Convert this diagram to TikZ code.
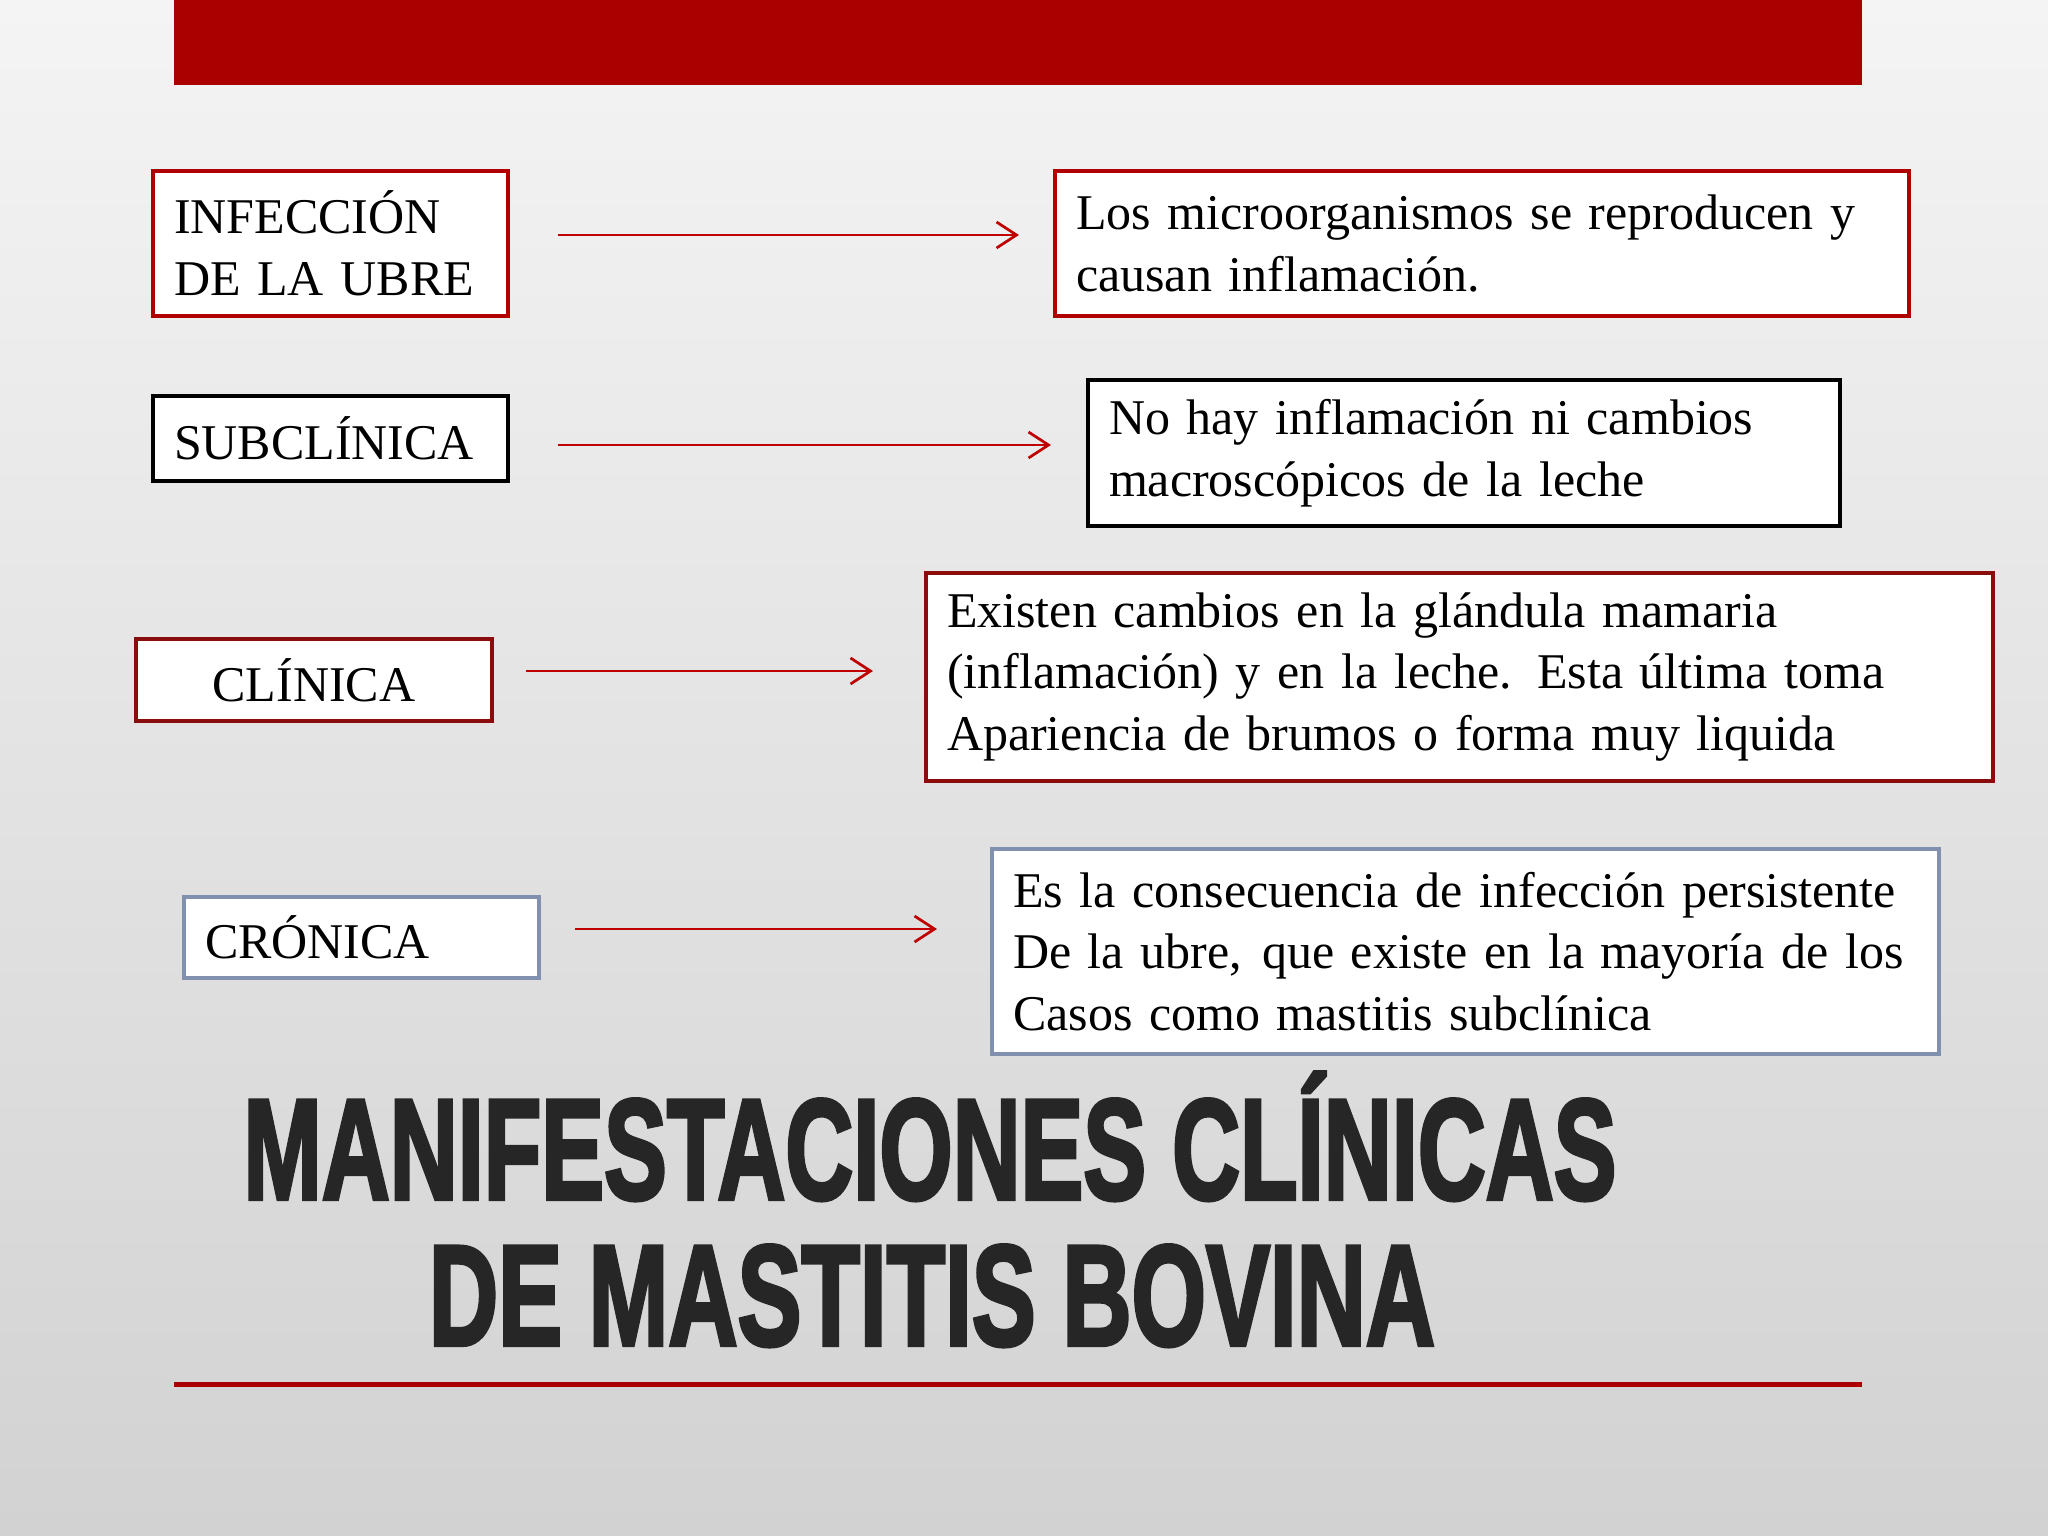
\documentclass[tikz,border=0pt]{standalone}
\usepackage{fontspec}
\setmainfont{Liberation Serif}
\newfontfamily\titlefont[BoldFeatures={FakeBold=3}]{Liberation Sans}
\usepackage{tikz}
\usetikzlibrary{arrows.meta,positioning,calc}

\definecolor{barred}{HTML}{AA0000}
\definecolor{boxred}{HTML}{B00000}
\definecolor{boxdark}{HTML}{8B0C0C}
\definecolor{boxblue}{HTML}{8090AE}
\definecolor{arrowred}{HTML}{C00000}
\definecolor{titlegray}{HTML}{262626}
\definecolor{bgtop}{HTML}{F4F4F4}
\definecolor{bgbottom}{HTML}{D2D2D2}

\begin{document}
\begin{tikzpicture}[
        x=1pt, y=-1pt,
        block/.style={rectangle, draw, fill=white, line width=4pt, inner xsep=21pt, inner ysep=0pt,
            align=left, font=\fontsize{50}{61.5}\selectfont},
        arrow/.style={draw=arrowred, line width=2.7pt, -{Straight Barb[length=20pt,width=26pt]}},
        title/.style={anchor=base, text=titlegray, font=\titlefont\bfseries\fontsize{143}{146}\selectfont}
    ]
        \useasboundingbox (0,0) rectangle (2048,1536);
        \shade[top color=bgtop, bottom color=bgbottom] (0,0) rectangle (2048,1536);
        \fill[barred] (174,0) rectangle (1862,85);
        \draw[barred, line width=5pt] (174,1384) -- (1862,1384);

        % left column
        \node[block, draw=boxred, minimum width=355pt, minimum height=145pt, text width=313pt] (infeccion) at (330.5,243.5) {INFECCIÓN\\DE LA UBRE};
        \node[block, draw=black, minimum width=355pt, minimum height=85pt, text width=313pt] (subclinica) at (330.5,438.5) {SUBCLÍNICA};
        \node[block, draw=boxdark, minimum width=356pt, minimum height=82pt, text width=314pt, align=center] (clinica) at (314,680) {CLÍNICA};
        \node[block, draw=boxblue, minimum width=355pt, minimum height=81pt, text width=313pt] (cronica) at (361.5,937.5) {CRÓNICA};

        % right column
        \node[block, draw=boxred, minimum width=854pt, minimum height=145pt, text width=812pt] (infeccionTxt) at (1482,243.5) {Los microorganismos se reproducen y\\causan inflamación.};
        \node[block, draw=black, minimum width=752pt, minimum height=146pt, text width=710pt] (subclinicaTxt) at (1464,453) {No hay inflamación ni cambios\\macroscópicos de la leche};
        \node[block, draw=boxdark, minimum width=1067pt, minimum height=208pt, text width=1025pt] (clinicaTxt) at (1459.5,677) {Existen cambios en la glándula mamaria\\(inflamación) y en la leche. Esta última toma\\Apariencia de brumos o forma muy liquida};
        \node[block, draw=boxblue, minimum width=945pt, minimum height=205pt, text width=905pt] (cronicaTxt) at (1465.5,951.5) {\mbox{Es la consecuencia de infección persistente}\\\mbox{De la ubre,\hspace{0.4em}que existe en la mayoría de los}\\Casos como mastitis subclínica};

        \draw[arrow, shorten <=48pt, shorten >=34pt] ([yshift=8.5pt]infeccion.east) -- ([yshift=8.5pt]infeccion.east -| infeccionTxt.west);
        \draw[arrow, shorten <=48pt, shorten >=35pt] ([yshift=-6.5pt]subclinica.east) -- ([yshift=-6.5pt]subclinica.east -| subclinicaTxt.west);
        \draw[arrow, shorten <=32pt, shorten >=51pt] ([yshift=9pt]clinica.east) -- ([yshift=9pt]clinica.east -| clinicaTxt.west);
        \draw[arrow, shorten <=34pt, shorten >=53pt] ([yshift=8.5pt]cronica.east) -- ([yshift=8.5pt]cronica.east -| cronicaTxt.west);

        % title
        \node[title] (title1) at (930,1199) {\scalebox{0.658}[1]{MANIFESTACIONES CLÍNICAS}};
        \node[title] (title2) at (932,1345) {\scalebox{0.67}[1]{DE MASTITIS BOVINA}};
    \end{tikzpicture}
\end{document}
